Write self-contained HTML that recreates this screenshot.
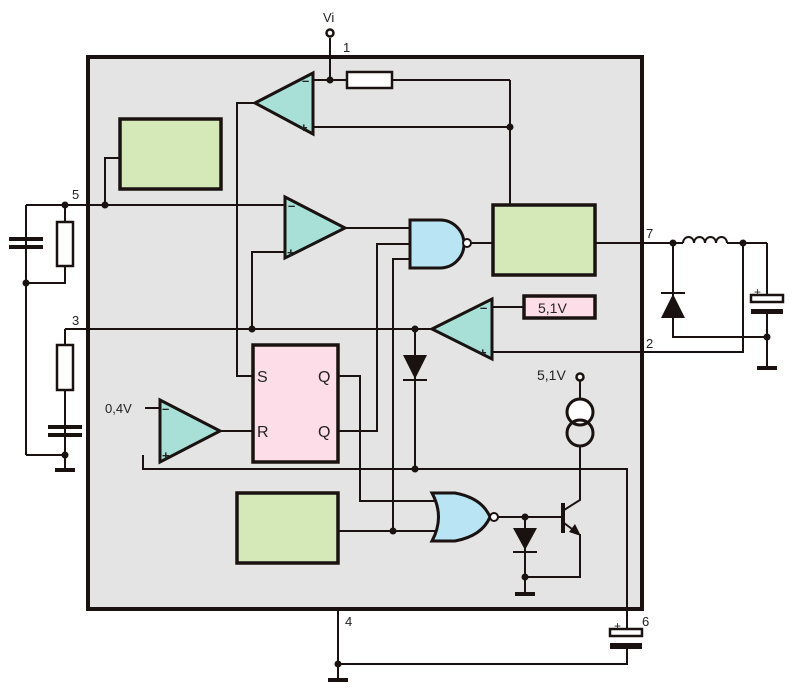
<!DOCTYPE html>
<html><head><meta charset="utf-8"><style>body{margin:0;background:#fff}svg{display:block}text{font-family:"Liberation Sans",sans-serif;fill:#222}</style></head><body>
<svg width="800" height="691" viewBox="0 0 800 691" xmlns="http://www.w3.org/2000/svg">
<rect x="88" y="57" width="554" height="552" fill="#e4e4e4" stroke="#1a1210" stroke-width="4"/>
<g stroke="#1a1210" stroke-width="2" fill="none">
<line x1="330" y1="38" x2="330" y2="80"/>
<line x1="313" y1="80" x2="347" y2="80"/>
<line x1="392" y1="80" x2="510" y2="80"/>
<line x1="510" y1="80" x2="510" y2="205"/>
<line x1="313" y1="127" x2="510" y2="127"/>
<polyline points="255,103 237,103 237,376 254,376"/>
<polyline points="120,158 105,158 105,205"/>
<line x1="26" y1="205" x2="285" y2="205"/>
<line x1="26" y1="205" x2="26" y2="455"/>
<line x1="26" y1="455" x2="65" y2="455"/>
<polyline points="65,205 65,222"/><polyline points="65,266 65,283 26,283"/>
<line x1="65" y1="329" x2="432" y2="329"/>
<line x1="65" y1="329" x2="65" y2="345"/><line x1="65" y1="390" x2="65" y2="470"/>
<polyline points="285,252 252,252 252,329"/>
<line x1="345" y1="228" x2="410" y2="228"/>
<line x1="471" y1="243" x2="493" y2="243"/>
<line x1="595" y1="243" x2="683" y2="243"/>
<line x1="727" y1="243" x2="767" y2="243"/>
<line x1="767" y1="243" x2="767" y2="296"/><line x1="767" y1="313" x2="767" y2="368"/>
<polyline points="673,243 673,337 767,337"/>
<polyline points="743,243 743,352 485,352"/>
<line x1="492" y1="307" x2="524" y2="307"/>
<line x1="415" y1="329" x2="415" y2="469"/>
<polyline points="143,455 143,469 627,469 627,631"/>
<polyline points="627,648 627,664 338,664"/>
<line x1="338" y1="609" x2="338" y2="680"/>
<line x1="145" y1="408" x2="160" y2="408"/>
<line x1="220" y1="431" x2="253" y2="431"/>
<polyline points="338,376 360,376 360,501 437,501"/>
<polyline points="338,431 377,431 377,244 410,244"/>
<polyline points="393,531 393,259 410,259"/>
<line x1="338" y1="531" x2="437" y2="531"/>
<line x1="497" y1="517" x2="563" y2="517"/>
<line x1="525" y1="517" x2="525" y2="594"/>
<polyline points="525,577 580,577 580,534"/>
<line x1="564" y1="523" x2="576" y2="532"/>
<polyline points="564,510 580,500 580,447"/>
<line x1="580" y1="381" x2="580" y2="398"/>
</g>
<g fill="#1a1210">
<rect x="9" y="237" width="34" height="4"/><rect x="9" y="245" width="34" height="4"/>
<rect x="48" y="425" width="34" height="4"/><rect x="48" y="433" width="34" height="4"/>
<rect x="55" y="468" width="20" height="4"/>
<rect x="757" y="366" width="20" height="4"/>
<rect x="328" y="678" width="20" height="4"/>
<rect x="515" y="592" width="20" height="4"/>
<rect x="751" y="309" width="32" height="5"/>
<rect x="610" y="643" width="32" height="6"/>
<rect x="561" y="503" width="4" height="30"/>
<polygon points="661,318 685,318 673,294"/><rect x="661" y="292" width="24" height="2"/>
<polygon points="403,355 427,355 415,379"/><rect x="403" y="379" width="24" height="2"/>
<polygon points="513,528 537,528 525,550"/><rect x="513" y="551" width="24" height="2"/>
<polygon points="581,536 569,532 575,524"/>
<circle cx="330" cy="80" r="3.5"/><circle cx="510" cy="127" r="3.5"/><circle cx="105" cy="205" r="3.5"/><circle cx="65" cy="205" r="3.5"/><circle cx="26" cy="283" r="3.5"/><circle cx="65" cy="455" r="3.5"/><circle cx="252" cy="329" r="3.5"/><circle cx="415" cy="329" r="3.5"/><circle cx="415" cy="469" r="3.5"/><circle cx="673" cy="243" r="3.5"/><circle cx="743" cy="243" r="3.5"/><circle cx="767" cy="337" r="3.5"/><circle cx="393" cy="531" r="3.5"/><circle cx="525" cy="517" r="3.5"/><circle cx="525" cy="577" r="3.5"/><circle cx="338" cy="664" r="3.5"/>
</g>
<g stroke="#1a1210" stroke-width="2.5">
<rect x="57" y="222" width="16" height="44" fill="#fff"/>
<rect x="57" y="345" width="16" height="45" fill="#fff"/>
<rect x="347" y="72" width="45" height="16" fill="#fff"/>
<rect x="751" y="295" width="32" height="7" fill="#fff"/>
<rect x="610" y="629" width="32" height="7" fill="#fff"/>
<circle cx="330" cy="33" r="3.5" fill="#fff"/>
<circle cx="580" cy="377" r="3.5" fill="#fff"/>
<circle cx="580" cy="412" r="13" fill="#fff" stroke-width="3"/>
<circle cx="580" cy="433" r="13" fill="none" stroke-width="3"/>
</g>
<path d="M683,243 a5.5,6 0 0 1 11,0 a5.5,6 0 0 1 11,0 a5.5,6 0 0 1 11,0 a5.5,6 0 0 1 11,0" fill="none" stroke="#1a1210" stroke-width="2"/>
<g stroke="#1a1210" stroke-width="3.5">
<rect x="120" y="119" width="101" height="70" fill="#d4e8b8"/>
<rect x="493" y="205" width="102" height="70" fill="#d4e8b8"/>
<rect x="237" y="493" width="101" height="70" fill="#d4e8b8"/>
<rect x="253" y="345" width="85" height="117" fill="#fddde8"/>
<rect x="524" y="296" width="71" height="22" fill="#fddde8"/>
</g>
<g stroke="#1a1210" stroke-width="3" fill="#a8e0d8">
<polygon points="255,103 313,73 313,134"/>
<polygon points="345,228 285,197 285,258"/>
<polygon points="432,329 492,299 492,359"/>
<polygon points="220,431 160,400 160,462"/>
</g>
<g stroke="#1a1210" stroke-width="3" fill="#b8e4f4">
<path d="M410,220 H440 A24,24 0 0 1 440,268 H410 Z"/>
<path d="M432,493 H455 Q482,498 490,517 Q482,536 455,541 H432 Q445,517 432,493 Z"/>
</g>
<g stroke="#1a1210" stroke-width="2" fill="#fff">
<circle cx="467" cy="243" r="4"/><circle cx="494" cy="517" r="4"/>
</g>
<g font-size="13" font-weight="bold" fill="#222">
<text x="302" y="85">–</text><text x="300" y="132">+</text>
<text x="288" y="210">–</text><text x="287" y="257">+</text>
<text x="480" y="312">–</text><text x="479" y="357">+</text>
<text x="162" y="413">–</text><text x="162" y="460">+</text>
</g>
<g font-size="13">
<text x="323" y="22">Vi</text><text x="343" y="52">1</text>
<text x="72" y="199">5</text><text x="72" y="325">3</text>
<text x="646" y="238">7</text><text x="646" y="348">2</text>
<text x="345" y="626">4</text><text x="642" y="626">6</text>
<text x="754" y="296" font-size="12">+</text><text x="614" y="630" font-size="12">+</text>
<text x="105" y="413">0,4V</text>
<text x="537" y="380" font-size="14">5,1V</text>
<text x="538" y="313" font-size="14">5,1V</text>
</g>
<g font-size="16">
<text x="257" y="382">S</text><text x="257" y="437">R</text>
<text x="318" y="382">Q</text><text x="318" y="437">Q</text>
</g>
</svg>
</body></html>
